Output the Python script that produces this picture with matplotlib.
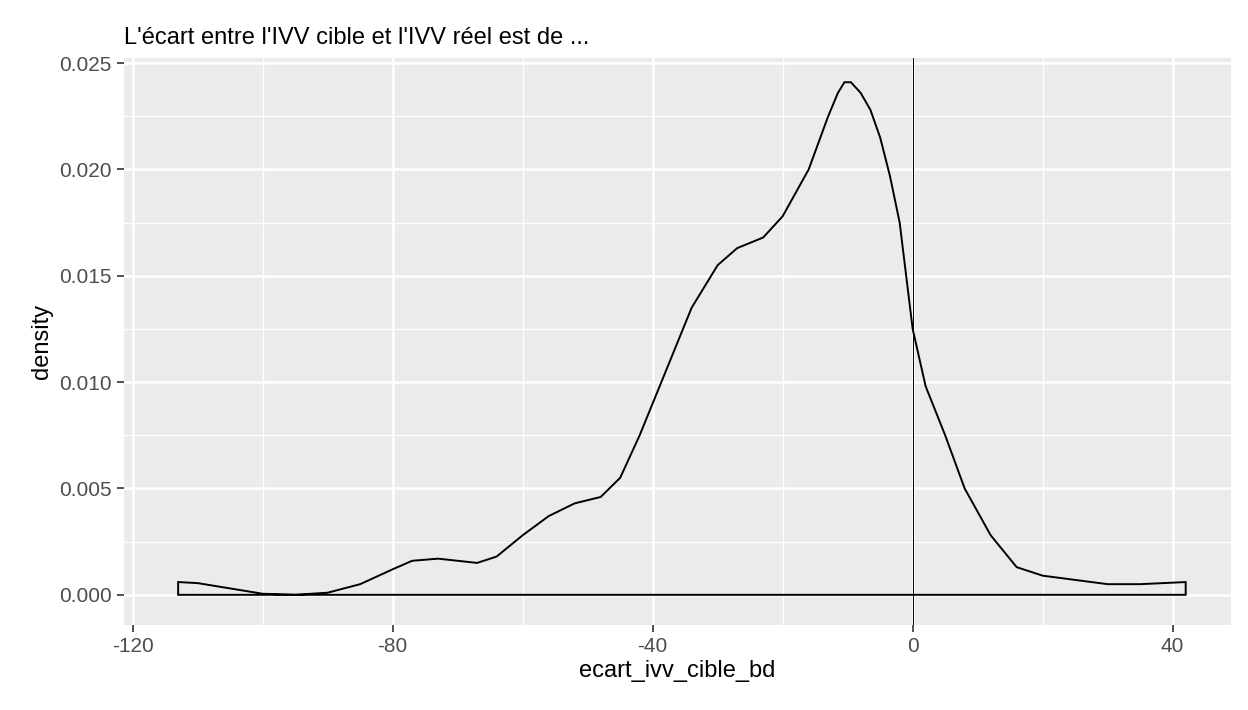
import matplotlib.pyplot as plt

# density curve
ecart = [-113, -110, -105, -100, -95, -90, -85, -80, -77, -73, -70, -67, -64, -60,
         -56, -52, -48, -45, -42, -38, -34, -30, -27, -23, -20, -16, -13, -11.5,
         -10.5, -9.5, -8, -6.5, -5, -3.5, -2, 0, 2, 5, 8, 12, 16, 20, 25, 30, 35, 42]
density = [0.0006, 0.00055, 0.0003, 0.00005, 0.0, 0.0001, 0.0005, 0.0012, 0.0016,
           0.0017, 0.0016, 0.0015, 0.0018, 0.0028, 0.0037, 0.0043, 0.0046, 0.0055,
           0.0075, 0.0105, 0.0135, 0.0155, 0.0163, 0.0168, 0.0178, 0.0200, 0.0225,
           0.0236, 0.0241, 0.0241, 0.0236, 0.0228, 0.0215, 0.0197, 0.0175, 0.0125,
           0.0098, 0.0075, 0.0050, 0.0028, 0.0013, 0.0009, 0.0007, 0.0005, 0.0005,
           0.0006]

xticks = [-120, -80, -40, 0, 40]
yticks = [0.000, 0.005, 0.010, 0.015, 0.020, 0.025]

plt.rcParams['font.family'] = ['Liberation Sans', 'DejaVu Sans']
fig = plt.figure(figsize=(12.48, 7.10), dpi=100)
ax = fig.add_axes([0.099, 0.12, 0.887, 0.798])
ax.set_facecolor('#EBEBEB')

ax.set_xticks(xticks)
ax.set_xticklabels([str(t) for t in xticks])
ax.set_yticks(yticks)
ax.set_yticklabels([f"{t:.3f}" for t in yticks])
ax.set_xticks([-100, -60, -20, 20], minor=True)
ax.set_yticks([0.0025, 0.0075, 0.0125, 0.0175, 0.0225], minor=True)
ax.grid(which='major', color='white', linewidth=1.8)
ax.grid(which='minor', color='white', linewidth=0.9)
ax.set_axisbelow(True)

xs = [ecart[0]] + ecart + [ecart[-1]]
ys = [0] + density + [0]
ax.fill(xs, ys, facecolor='none', edgecolor='black', linewidth=1.4, closed=True)
ax.axvline(0, color='black', linewidth=0.7)

ax.set_xlim(-121.4, 48.9)
ax.set_ylim(-0.00141, 0.02523)
for s in ax.spines.values():
    s.set_visible(False)
ax.tick_params(which='major', colors='#333333', labelsize=15, length=5, width=1.2)
ax.tick_params(which='minor', length=0)
for lab in ax.get_xticklabels() + ax.get_yticklabels():
    lab.set_color('#4D4D4D')

ax.set_xlabel('ecart_ivv_cible_bd', fontsize=17, labelpad=3)
ax.set_ylabel('density', fontsize=17, labelpad=4)
ax.set_title("L'écart entre l'IVV cible et l'IVV réel est de ...", fontsize=17,
             loc='left', pad=10)

fig.savefig('out.png', dpi=100)
